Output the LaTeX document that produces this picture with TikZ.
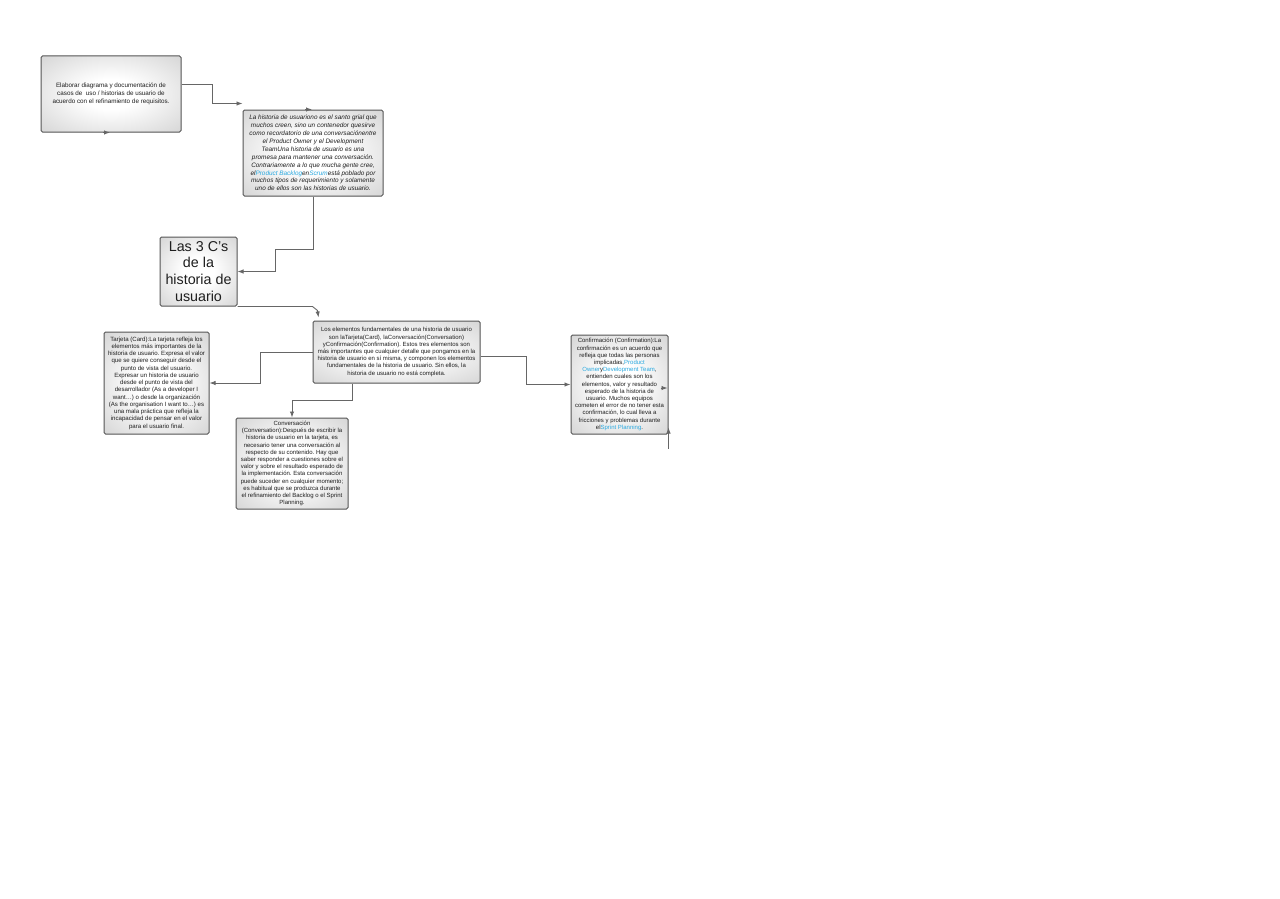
\documentclass[tikz,border=0pt]{standalone}
\usepackage{fontspec}
\setmainfont{Liberation Sans}
\usetikzlibrary{arrows.meta}
\definecolor{cardedge}{HTML}{C2C2C2}
\definecolor{cardline}{HTML}{555555}
\definecolor{wire}{HTML}{666666}
\definecolor{linkcyan}{HTML}{29A9E0}
\definecolor{ink}{HTML}{1E1E1E}
\pgfdeclareradialshading{cardglow}{\pgfpoint{0bp}{0bp}}{color(0bp)=(white); color(10bp)=(white); color(48bp)=(cardedge); color(71bp)=(cardedge)}
\newcommand{\lnk}[1]{\textcolor{linkcyan}{#1}}
\frenchspacing
\begin{document}
\begin{tikzpicture}[x=1pt,y=-1pt,
  card/.style={draw=cardline,line width=1pt,rounded corners=1.5pt,shading=cardglow,
    inner sep=0pt,align=center,text=ink},
  small/.style={font=\fontsize{6}{7.2}\selectfont},
  conn/.style={draw=wire,line width=0.9pt,-{Latex[length=6pt,width=4.4pt]}}]
  \path[use as bounding box,fill=white] (0,0) rectangle (1280,899);
  \node [card,minimum width=140pt,minimum height=76pt,font=\fontsize{6.3}{8}\selectfont] (elaborar) at (111,94)
   {Elaborar diagrama y documentación de\\casos de\ \ uso / historias de usuario de\\acuerdo con el refinamiento de requisitos.};
  \node [card,minimum width=140pt,minimum height=86pt,font=\fontsize{6.4}{7.9}\selectfont\itshape] (historia) at (313,153)
   {La historia de usuariono es el santo grial que\\muchos creen, sino un contenedor quesirve\\como recordatorio de una conversaciónentre\\el Product Owner y el Development\\TeamUna historia de usuario es una\\promesa para mantener una conversación.\\Contrariamente a lo que mucha gente cree,\\el\lnk{Product Backlog}en\lnk{Scrum}está poblado por\\muchos tipos de requerimiento y solamente\\uno de ellos son las historias de usuario.};
  \node [card,minimum width=77pt,minimum height=69pt,font=\fontsize{14.3}{16.9}\selectfont] (tresc) at (198.5,271.5)
   {Las 3 C’s\\de la\\historia de\\usuario};
  \node [card,small,minimum width=167pt,minimum height=62pt] (elementos) at (396.5,352)
   {Los elementos fundamentales de una historia de usuario\\son laTarjeta(Card), laConversación(Conversation)\\yConfirmación(Confirmation). Estos tres elementos son\\más importantes que cualquier detalle que pongamos en la\\historia de usuario en sí misma, y componen los elementos\\fundamentales de la historia de usuario. Sin ellos, la\\historia de usuario no está completa.};
  \node [card,minimum width=105pt,minimum height=102pt,font=\fontsize{6.1}{7.25}\selectfont] (tarjeta) at (156.5,383)
   {Tarjeta (Card):La tarjeta refleja los\\elementos más importantes de la\\historia de usuario. Expresa el valor\\que se quiere conseguir desde el\\punto de vista del usuario.\\Expresar un historia de usuario\\desde el punto de vista del\\desarrollador (As a developer I\\want…) o desde la organización\\(As the organisation I want to…) es\\una mala práctica que refleja la\\incapacidad de pensar en el valor\\para el usuario final.};
  \node [card,small,minimum width=112pt,minimum height=91pt] (conversa) at (292,463.5)
   {Conversación\\(Conversation):Después de escribir la\\historia de usuario en la tarjeta, es\\necesario tener una conversación al\\respecto de su contenido. Hay que\\saber responder a cuestiones sobre el\\valor y sobre el resultado esperado de\\la implementación. Esta conversación\\puede suceder en cualquier momento;\\es habitual que se produzca durante\\el refinamiento del Backlog o el Sprint\\Planning.};
  \node [card,small,minimum width=97pt,minimum height=99pt] (confirma) at (619.5,384.5)
   {Confirmación (Confirmation):La\\confirmación es un acuerdo que\\refleja que todas las personas\\implicadas,\lnk{Product}\\\lnk{Owner}y\lnk{Development Team},\\entienden cuales son los\\elementos, valor y resultado\\esperado de la historia de\\usuario. Muchos equipos\\cometen el error de no tener esta\\confirmación, lo cual lleva a\\fricciones y problemas durante\\el\lnk{Sprint Planning}.};
  \draw [conn] ([yshift=10pt]elaborar.east) -- ++(31,0) |- ([yshift=6pt]historia.north west);
  \draw [conn] (historia.south) -- ++(0,53) -- ++(-38,0) |- (tresc.east);
  \draw [conn] (tresc.south east) -- ++(75,0) -- ++(5,4) -- ([xshift=6pt,yshift=3pt]elementos.north west);
  \draw [conn] (elementos.west) -- ++(-52,0) |- (tarjeta.east);
  \draw [conn] ([xshift=-44.5pt]elementos.south) -- ++(0,17) -| (conversa.north);
  \draw [conn] ([yshift=-4pt]elementos.east) -- ++(46,0) |- (confirma.west);
  \draw [conn] ([xshift=-8pt]elaborar.south) -- ([xshift=-1pt]elaborar.south);
  \draw [conn] ([xshift=-8pt]historia.north) -- ([xshift=-1pt]historia.north);
  \draw [conn] ([xshift=-8pt,yshift=-3.5pt]confirma.east) -- ([xshift=-1pt,yshift=-3.5pt]confirma.east);
  \draw [conn] ([yshift=-14pt]confirma.south east) -- ([yshift=7pt]confirma.south east);
\end{tikzpicture}
\end{document}
